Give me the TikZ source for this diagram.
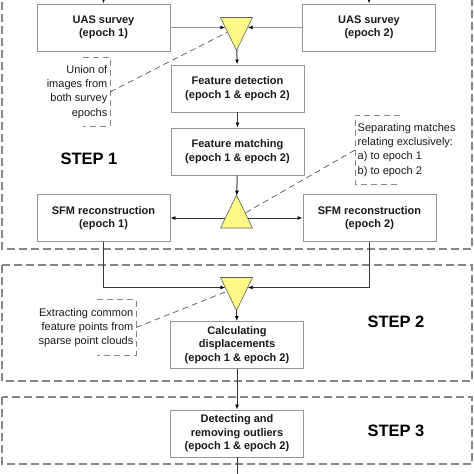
\documentclass[tikz,border=0pt]{standalone}
\usepackage{fontspec}
\setmainfont{Liberation Sans}
\usetikzlibrary{arrows.meta,shapes.geometric}
\definecolor{boxline}{RGB}{150,150,150}
\definecolor{frameline}{RGB}{135,135,135}
\definecolor{flowline}{RGB}{55,55,55}
\definecolor{mergeyellow}{RGB}{255,250,135}
\definecolor{txt}{RGB}{25,25,25}
\tikzset{
  procbox/.style={draw=boxline,fill=white,line width=0.9pt,minimum width=133pt,minimum height=47pt,
    align=center,font=\fontsize{11}{13.5}\selectfont\bfseries,text=txt},
  mergedown/.style={isosceles triangle,isosceles triangle stretches,shape border rotate=270,
    minimum width=32pt,minimum height=33pt,inner sep=0pt,outer sep=0pt,
    draw=flowline!80,fill=mergeyellow,line width=0.6pt},
  mergeup/.style={mergedown,shape border rotate=90},
  note/.style={font=\fontsize{11}{14.2}\selectfont,text=txt,inner xsep=2.5pt,inner ysep=8pt},
  bracket/.style={draw=frameline,dash pattern=on 6pt off 4pt,line width=1pt},
  leader/.style={draw=flowline!85,dash pattern=on 6pt off 4pt,line width=0.7pt},
  flow/.style={draw=flowline,line width=1pt,-{Latex[length=5pt,width=4pt,color=black]}},
  feed/.style={flow,draw=boxline},
  stepframe/.style={draw=frameline,dash pattern=on 8pt off 4pt,line width=1.3pt},
  steplabel/.style={font=\fontsize{16.5}{18}\selectfont\bfseries,text=black}
}
\begin{document}
\begin{tikzpicture}[x=1pt,y=-1pt]
  \useasboundingbox (0,0) rectangle (474,474);
  % step frames
  \draw[stepframe] (2,-10) rectangle (472,249);
  \draw[stepframe] (2,265) rectangle (472,381);
  \draw[stepframe] (2,397) rectangle (472,464);
  \node[steplabel] (step1) at (89,158.5) {STEP 1};
  \node[steplabel] (step2) at (396,321.5) {STEP 2};
  \node[steplabel] (step3) at (396,431) {STEP 3};

  % processing boxes
  \node[procbox] (uas1) at (103.5,27.5) {UAS survey\\(epoch 1)};
  \node[procbox] (uas2) at (369,27.5) {UAS survey\\(epoch 2)};
  \node[procbox] (det) at (237.5,88.5) {Feature detection\\(epoch 1 \& epoch 2)};
  \node[procbox] (match) at (237.5,151.5) {Feature matching\\(epoch 1 \& epoch 2)};
  \node[procbox] (sfm1) at (103.5,218) {SFM reconstruction\\(epoch 1)};
  \node[procbox] (sfm2) at (369.5,218) {SFM reconstruction\\(epoch 2)};
  \node[procbox] (calc) at (237,345) {Calculating\\displacements\\(epoch 1 \& epoch 2)};
  \node[procbox] (detect) at (237,433.5) {Detecting and\\removing outliers\\(epoch 1 \& epoch 2)};

  % merge / split triangles
  \node[mergedown] (tri1) at (236.5,27.5) {};
  \node[mergeup] (tri2) at (236.5,218) {};
  \node[mergedown] (tri3) at (236.5,287.5) {};

  % notes
  \node[note,align=right,anchor=east] (note1) at (110,92) {Union of\\images from\\both survey\\epochs};
  \node[note,align=left,anchor=west] (note2) at (355,150) {Separating matches\\relating exclusively:\\a) to epoch 1\\b) to epoch 2};
  \node[note,align=right,anchor=east] (note3) at (136,327.5) {Extracting common\\feature points from\\sparse point clouds};
  \draw[bracket] ([xshift=-27pt]note1.north east) -- (note1.north east) -- (note1.south east) -- ([xshift=-27pt]note1.south east);
  \draw[bracket] ([xshift=45pt]note2.north west) -- (note2.north west) -- (note2.south west) -- ([xshift=45pt]note2.south west);
  \draw[bracket] ([xshift=-39pt]note3.north east) -- (note3.north east) -- (note3.south east) -- ([xshift=-39pt]note3.south east);

  % connectors
  \coordinate (src1) at (103.5,-10);
  \coordinate (src2) at (369,-10);
  \coordinate (sink) at (237,480);
  \draw[flow] (src1) -- (uas1);
  \draw[flow] (src2) -- (uas2);
  \draw[feed] (uas1) -- (tri1);
  \draw[feed] (uas2) -- (tri1);
  \draw[flow] (tri1) -- (det);
  \draw[flow] (det) -- (match);
  \draw[flow] (match) -- (tri2);
  \draw[flow] (tri2) -- (sfm1);
  \draw[flow] (tri2) -- (sfm2);
  \draw[flow] (sfm1) |- (tri3);
  \draw[flow] (sfm2) |- (tri3);
  \draw[flow] (tri3) -- (calc);
  \draw[flow] (calc) -- (detect);
  \draw[flow,-] (detect) -- (sink);
  \draw[leader] (note1.east) -- (tri1);
  \draw[leader] (note2.west) -- (tri2);
  \draw[leader] (note3.east) -- (tri3);
\end{tikzpicture}
\end{document}
